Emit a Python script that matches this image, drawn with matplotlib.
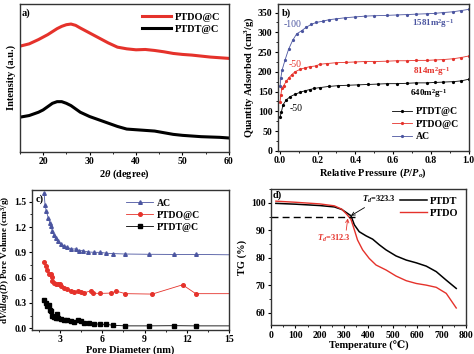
import matplotlib
matplotlib.use('Agg')
import matplotlib.pyplot as plt
from matplotlib.ticker import AutoMinorLocator, MultipleLocator

plt.rcParams['font.family'] = ['Liberation Serif', 'DejaVu Serif']
plt.rcParams['font.weight'] = 'bold'
plt.rcParams['axes.labelweight'] = 'bold'
plt.rcParams['mathtext.fontset'] = 'custom'
plt.rcParams['mathtext.rm'] = 'Liberation Serif:bold'
plt.rcParams['mathtext.it'] = 'Liberation Serif:italic:bold'
plt.rcParams['mathtext.bf'] = 'Liberation Serif:bold'
plt.rcParams['axes.linewidth'] = 1.0
plt.rcParams['axes.edgecolor'] = '#333333'

RED = '#e5322b'
BLUE = '#4b55a0'

# a) XRD (intensity in arbitrary units)
xrd_2theta = [15, 17, 19, 21, 23, 24, 25, 26, 27, 28, 30, 32, 34, 36, 38, 40, 42, 44, 46, 48, 50, 52, 54, 56, 58, 60]
xrd_ptdo = [320, 327, 340, 355, 373, 380, 385, 387, 383, 375, 360, 345, 330, 317, 312, 309, 310, 307, 303, 298, 295, 293, 290, 287, 285, 283]
xrd_2theta_b = [15, 17, 19, 20, 21, 22, 23, 24, 25, 26, 27, 28, 30, 32, 34, 36, 38, 40, 42, 44, 46, 48, 50, 52, 54, 56, 58, 60]
xrd_ptdt = [105, 110, 120, 127, 137, 147, 152, 152, 147, 140, 130, 120, 107, 97, 87, 77, 69, 67, 65, 63, 58, 53, 50, 48, 46, 45, 44, 42]

# b) N2 isotherms
p_ac = [0.001, 0.005, 0.012, 0.028, 0.046, 0.068, 0.089, 0.115, 0.14, 0.166, 0.192, 0.226, 0.26, 0.296, 0.347, 0.4, 0.45, 0.5,
        0.57, 0.62, 0.674, 0.72, 0.778, 0.82, 0.864, 0.916, 0.959, 1.0]
q_ac = [163, 185, 205, 231, 257, 280, 296, 304, 313, 320, 325, 328, 332, 334, 337, 339, 341, 342,
        343, 344, 345, 346, 347, 348, 350, 352, 355, 358]
p_ptdo = [0.001, 0.005, 0.01, 0.02, 0.034, 0.046, 0.063, 0.08, 0.106, 0.132, 0.158, 0.192, 0.21, 0.25, 0.296, 0.35, 0.4,
          0.45, 0.5, 0.57, 0.62, 0.674, 0.72, 0.778, 0.82, 0.864, 0.916, 0.959, 1.0]
q_ptdo = [124, 141, 158, 165, 176, 184, 193, 200, 206, 210, 213, 215, 219, 221, 223, 224, 225,
          226, 226, 227, 228, 228, 229, 229, 230, 231, 233, 236, 240]
p_ptdt = [0.001, 0.008, 0.016, 0.034, 0.054, 0.08, 0.106, 0.132, 0.158, 0.183, 0.21, 0.26, 0.31, 0.36, 0.416, 0.468,
          0.52, 0.57, 0.62, 0.674, 0.72, 0.778, 0.82, 0.864, 0.916, 0.959, 1.0]
q_ptdt = [86, 98, 116, 129, 137, 143, 148, 152, 155, 158, 160, 163, 165, 166, 167, 168,
          169, 170, 170, 171, 172, 172, 173, 174, 175, 177, 181]

# c) pore size distribution
d_ac = [1.86, 1.93, 2.02, 2.16, 2.26, 2.36, 2.45, 2.57, 2.69, 2.88, 3.05, 3.29, 3.52, 3.76, 4.12, 4.36, 4.6, 4.95,
        5.43, 5.86, 6.26, 6.74, 7.64, 9.31, 11.1, 12.64, 15.5]
v_ac = [1.60, 1.46, 1.385, 1.31, 1.25, 1.21, 1.15, 1.11, 1.07, 1.03, 1.00, 0.97, 0.96, 0.94, 0.94, 0.92, 0.92, 0.905,
        0.90, 0.90, 0.89, 0.885, 0.88, 0.877, 0.875, 0.875, 0.87]
d_ptdo = [1.86, 1.98, 2.09, 2.21, 2.34, 2.41, 2.45, 2.57, 2.69, 2.88, 2.98, 3.05, 3.29, 3.52, 3.76, 4.0, 4.24, 4.48,
          4.71, 5.19, 5.3, 5.86, 6.62, 6.98, 7.64, 9.55, 11.7, 12.64, 15.5]
v_ptdo = [0.787, 0.735, 0.685, 0.645, 0.638, 0.606, 0.56, 0.54, 0.525, 0.52, 0.53, 0.50, 0.48, 0.46, 0.44, 0.43, 0.44, 0.43,
          0.42, 0.445, 0.415, 0.413, 0.417, 0.44, 0.41, 0.405, 0.515, 0.41, 0.41]
d_ptdt = [1.86, 1.98, 2.09, 2.21, 2.26, 2.34, 2.45, 2.57, 2.69, 2.8, 2.88, 3.05, 3.29, 3.52, 3.76, 4.0, 4.24, 4.48,
          4.71, 5.07, 5.43, 5.86, 6.26, 6.74, 7.64, 9.31, 11.1, 12.64, 15.5]
v_ptdt = [0.34, 0.30, 0.26, 0.275, 0.22, 0.21, 0.145, 0.135, 0.125, 0.165, 0.118, 0.106, 0.094, 0.094, 0.087, 0.075, 0.094, 0.087,
          0.066, 0.066, 0.055, 0.045, 0.047, 0.035, 0.028, 0.028, 0.03, 0.028, 0.028]

# d) TGA
t_ptdt = [20, 100, 200, 260, 290, 310, 328, 342, 362, 390, 417, 445, 472, 513, 555, 596, 637, 678, 719, 760]
w_ptdt = [99.8, 99.5, 99.0, 98.5, 97.6, 96.4, 95.3, 92.0, 89.5, 88.0, 86.8, 84.7, 82.9, 80.7, 79.2, 78.2, 77.0, 75.0, 71.9, 68.9]
t_ptdo = [20, 100, 200, 260, 290, 310, 328, 342, 355, 376, 403, 431, 472, 513, 555, 596, 637, 678, 719, 760]
w_ptdo = [100.6, 100.2, 99.6, 98.9, 97.7, 95.9, 94.0, 90.2, 86.5, 82.9, 79.8, 77.4, 75.6, 73.4, 71.7, 70.7, 70.1, 69.3, 67.1, 61.8]

fig = plt.figure(figsize=(4.74, 3.54), dpi=100)
ax_a = fig.add_axes([0.042, 0.571, 0.441, 0.418])
ax_b = fig.add_axes([0.5865, 0.574, 0.402, 0.415])
ax_c = fig.add_axes([0.0675, 0.068, 0.4156, 0.3955])
ax_d = fig.add_axes([0.5717, 0.081, 0.4114, 0.385])

tfs = 7
lfs = 7.5

for ax in (ax_a, ax_b, ax_c, ax_d):
    ax.tick_params(direction='out', length=2.5, width=0.8, labelsize=tfs, pad=1.5)
    ax.tick_params(which='minor', direction='out', length=1.5, width=0.6)

# a
ax_a.plot(xrd_2theta, xrd_ptdo, color=RED, lw=2.2, label='PTDO@C')
ax_a.plot(xrd_2theta_b, xrd_ptdt, color='black', lw=2.2, label='PTDT@C')
ax_a.set_xlim(15, 60)
ax_a.set_ylim(0, 448)
ax_a.set_yticks([])
ax_a.set_xticks([20, 30, 40, 50, 60])
ax_a.xaxis.set_minor_locator(AutoMinorLocator(2))
ax_a.set_xlabel(r'2$\theta$ (degree)', fontsize=lfs, labelpad=1)
ax_a.set_ylabel('Intensity (a.u.)', fontsize=lfs, labelpad=3)
ax_a.text(0.01, 0.97, 'a)', transform=ax_a.transAxes, fontsize=lfs, va='top')
ax_a.legend(loc='upper right', frameon=False, fontsize=lfs, handlelength=2.8, handletextpad=0.4,
            labelspacing=0.3, borderaxespad=0.4)

# b
ax_b.plot(p_ptdt, q_ptdt, color='black', lw=0.6, marker='o', ms=1.3, label='PTDT@C')
ax_b.plot(p_ptdo, q_ptdo, color=RED, lw=0.6, marker='o', ms=1.3, label='PTDO@C')
ax_b.plot(p_ac, q_ac, color=BLUE, lw=0.6, marker='o', ms=1.3, label='AC')
ax_b.set_xlim(-0.01, 1.0)
ax_b.set_ylim(0, 372)
ax_b.xaxis.set_major_locator(MultipleLocator(0.2))
ax_b.yaxis.set_major_locator(MultipleLocator(50))
ax_b.xaxis.set_minor_locator(AutoMinorLocator(2))
ax_b.yaxis.set_minor_locator(AutoMinorLocator(2))
ax_b.set_xlabel(r'Relative Pressure ($P$/$P_o$)', fontsize=lfs, labelpad=1)
ax_b.set_ylabel(r'Quantity Adsorbed (cm$^3$/g)', fontsize=lfs, labelpad=1)
ax_b.text(0.02, 0.97, 'b)', transform=ax_b.transAxes, fontsize=lfs, va='top')
ax_b.text(0.02, 319, '-100', color=BLUE, fontsize=tfs, fontweight='normal', va='center')
ax_b.text(0.045, 219, '-50', color=RED, fontsize=tfs, fontweight='normal', va='center')
ax_b.text(0.054, 107, '-50', color='black', fontsize=tfs, fontweight='normal', va='center')
ax_b.text(0.70, 323, r'1581m$^2$g$^{-1}$', color=BLUE, fontsize=6.5, va='center')
ax_b.text(0.705, 201, r'814m$^2$g$^{-1}$', color=RED, fontsize=6.5, va='center')
ax_b.text(0.69, 146, r'640m$^2$g$^{-1}$', color='black', fontsize=6.5, va='center')
ax_b.legend(loc='lower right', frameon=False, fontsize=tfs, handlelength=2.0, handletextpad=0.4,
            labelspacing=0.35, borderaxespad=0.6)

# c
ax_c.plot(d_ac, v_ac, color=BLUE, lw=0.6, marker='^', ms=2.6, label='AC')
ax_c.plot(d_ptdo, v_ptdo, color=RED, lw=0.6, marker='o', ms=2.6, label='PTDO@C')
ax_c.plot(d_ptdt, v_ptdt, color='black', lw=0.6, marker='s', ms=2.4, label='PTDT@C')
ax_c.set_xlim(1, 15)
ax_c.set_ylim(-0.02, 1.64)
ax_c.set_xticks([3, 6, 9, 12, 15])
ax_c.set_yticks([0.0, 0.3, 0.6, 0.9, 1.2, 1.5])
ax_c.xaxis.set_minor_locator(AutoMinorLocator(2))
ax_c.yaxis.set_minor_locator(AutoMinorLocator(2))
ax_c.set_xlabel('Pore Diameter (nm)', fontsize=lfs, labelpad=1)
ax_c.set_ylabel(r'd$V$/d$log$($D$) Pore Volume (cm$^3$/g)', fontsize=6.6, labelpad=1.5)
ax_c.text(0.02, 0.97, 'c)', transform=ax_c.transAxes, fontsize=lfs, va='top')
ax_c.legend(loc='upper right', bbox_to_anchor=(0.9, 1.0), frameon=False, fontsize=tfs, handlelength=2.8,
            handletextpad=0.4, labelspacing=0.3)

# d
ax_d.plot(t_ptdt, w_ptdt, color='black', lw=1.1, label='PTDT')
ax_d.plot(t_ptdo, w_ptdo, color=RED, lw=1.0, label='PTDO')
ax_d.plot([0, 343], [95, 95], color='black', lw=1.0, ls=(0, (5, 3)))
ax_d.set_xlim(0, 800)
ax_d.set_ylim(55.5, 105)
ax_d.xaxis.set_major_locator(MultipleLocator(100))
ax_d.yaxis.set_major_locator(MultipleLocator(10))
ax_d.xaxis.set_minor_locator(AutoMinorLocator(2))
ax_d.yaxis.set_minor_locator(AutoMinorLocator(2))
ax_d.set_xlabel('Temperature (\u2103)', fontsize=lfs, labelpad=1)
ax_d.set_ylabel('TG (%)', fontsize=lfs, labelpad=3)
ax_d.text(0.01, 0.99, 'd)', transform=ax_d.transAxes, fontsize=lfs, va='top')
ax_d.annotate(r'$T_d$=323.3', xy=(328, 95.3), xytext=(372, 101.3), fontsize=6, color='black',
              va='center', arrowprops=dict(arrowstyle='->', color='black', lw=0.6, shrinkA=0, shrinkB=0))
ax_d.annotate(r'$T_d$=312.3', xy=(315, 94.3), xytext=(190, 87), fontsize=6, color=RED,
              va='center', arrowprops=dict(arrowstyle='->', color=RED, lw=0.6, shrinkA=0, shrinkB=0,
                                           relpos=(0.85, 1.0)))
ax_d.legend(loc='upper right', frameon=False, fontsize=lfs, handlelength=2.6, handletextpad=0.3,
            labelspacing=0.3, borderaxespad=0.3)

fig.savefig('out.png', dpi=100)
